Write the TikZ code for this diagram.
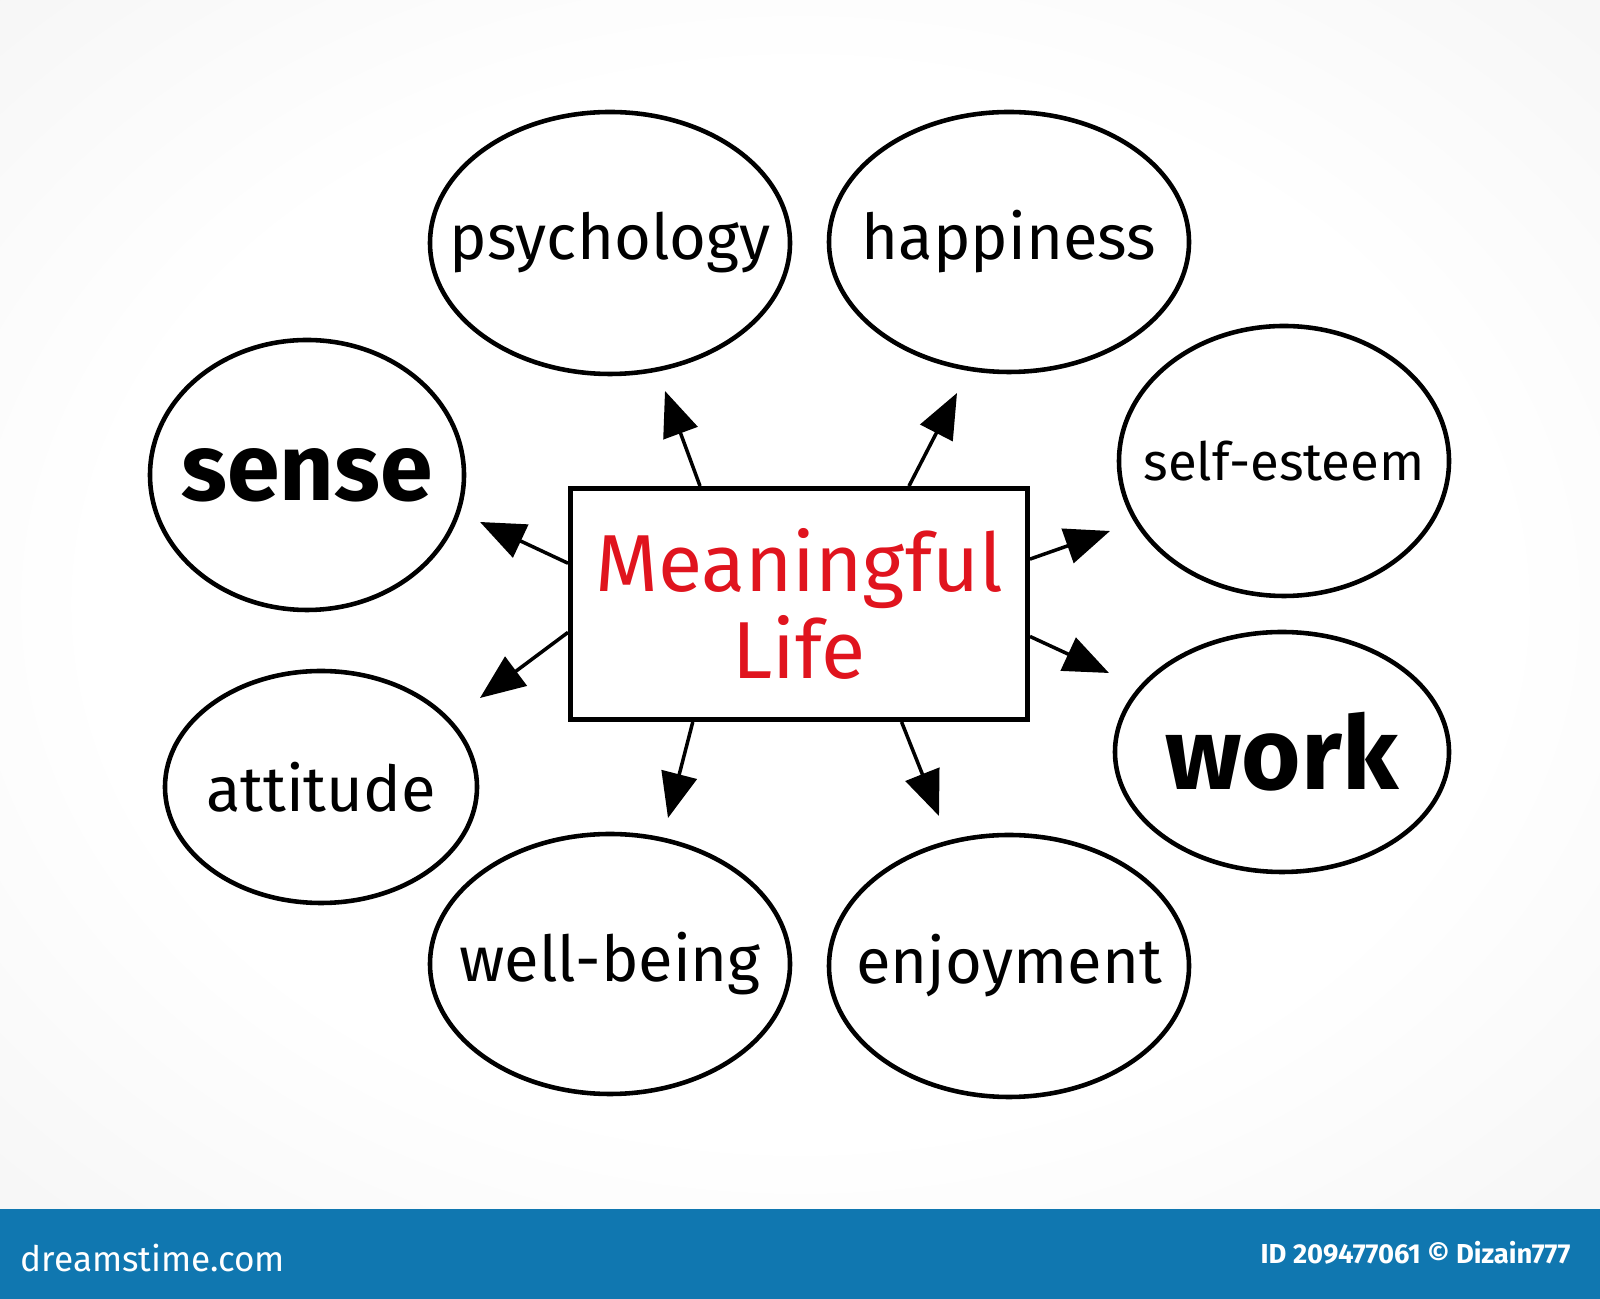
\documentclass[tikz,border=0pt]{standalone}
\usepackage{fontspec}
\setmainfont{Fira Sans}
\usetikzlibrary{shapes.geometric,arrows.meta}
\definecolor{lifered}{HTML}{E0141E}
\definecolor{barblue}{HTML}{1077B0}
\pgfdeclareradialshading{paperglow}{\pgfpoint{0bp}{0bp}}{color(0bp)=(white); color(22bp)=(white); color(50bp)=(black!7); color(72bp)=(black!11)}

\begin{document}
\begin{tikzpicture}[x=0.1mm, y=-0.1mm,
  bubble/.style={draw, ellipse, line width=1.3pt, inner sep=0pt},
  word/.style={inner sep=0pt, font=\fontsize{18}{20}\selectfont},
  bigword/.style={inner sep=0pt, font=\fontsize{29}{32}\selectfont\bfseries},
  hub/.style={draw, rectangle, line width=1.4pt, minimum width=45.7mm, minimum height=23.1mm,
    align=center, text=lifered, font=\fontsize{23}{25}\selectfont},
  link/.style={line width=1pt, -{Triangle[length=4.5mm, width=3.6mm]}}]

  % background and bottom bar
  \useasboundingbox (0,0) rectangle (1600,1299);
  \shade[shading=paperglow] (0,0) rectangle (1600,1209);
  \fill[barblue] (0,1209) rectangle (1600,1299);
  \node[text=white, inner sep=0pt, font=\fontsize{10}{12}\selectfont, anchor=west] (site) at (20,1258) {dreamstime.com};
  \node[text=white, inner sep=0pt, font=\fontsize{7.8}{9}\selectfont\bfseries, anchor=east] (imgid) at (1571,1253) {ID 209477061 © Dizain777};

  % centre
  \node[hub] (life) at (799,604) {Meaningful\\Life};

  % bubbles
  \node[bubble, minimum width=36mm, minimum height=26.2mm] (psy) at (610,243) {};
  \node[word] (psytxt) at (psy) {psychology};
  \node[bubble, minimum width=36mm, minimum height=26mm] (hap) at (1009,242) {};
  \node[word] (haptxt) at (hap) {happiness};
  \node[bubble, minimum width=31.4mm, minimum height=27mm] (sen) at (307,475) {};
  \node[bigword, font=\fontsize{27}{30}\selectfont\bfseries] (sentxt) at (sen) {sense};
  \node[bubble, minimum width=33mm, minimum height=27mm] (est) at (1284,461) {};
  \node[word, font=\fontsize{15}{17}\selectfont] (esttxt) at (est) {self-esteem};
  \node[bubble, minimum width=31.2mm, minimum height=23.2mm] (att) at (321,787) {};
  \node[word] (atttxt) at (att) {attitude};
  \node[bubble, minimum width=33.4mm, minimum height=24mm] (wrk) at (1282,752) {};
  \node[bigword] (wrktxt) at (wrk) {work};
  \node[bubble, minimum width=36mm, minimum height=26mm] (wel) at (610,964) {};
  \node[word] (weltxt) at (wel) {well-being};
  \node[bubble, minimum width=36mm, minimum height=26.2mm] (enj) at (1009,966) {};
  \node[word] (enjtxt) at (enj) {enjoyment};

  % arrow tips
  \coordinate (psytip) at (665,391);
  \coordinate (haptip) at (957,393);
  \coordinate (sentip) at (480,522);
  \coordinate (esttip) at (1110,531);
  \coordinate (atttip) at (480,698);
  \coordinate (wrktip) at (1109,673);
  \coordinate (weltip) at (668,818);
  \coordinate (enjtip) at (939,816);

  \draw[link] (life.130) -- (psytip);
  \draw[link] (life.47) -- (haptip);
  \draw[link] (life.170) -- (sentip);
  \draw[link] (life.11) -- (esttip);
  \draw[link] (life.187) -- (atttip);
  \draw[link] (life.-8) -- (wrktip);
  \draw[link] (life.-132) -- (weltip);
  \draw[link] (life.-49) -- (enjtip);

\end{tikzpicture}
\end{document}
